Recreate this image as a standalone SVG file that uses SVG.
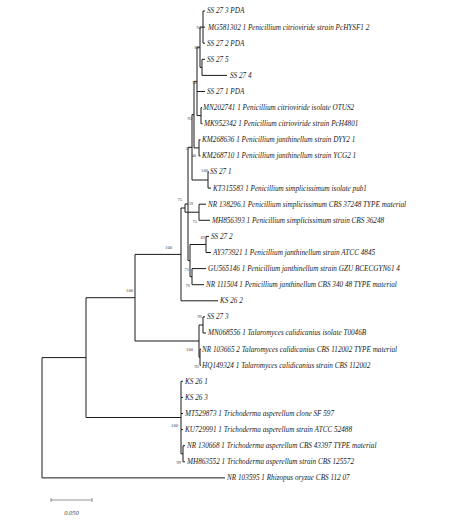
<svg xmlns="http://www.w3.org/2000/svg" width="474" height="524" viewBox="0 0 474 524">
<style>
.bg{fill:#ffffff}
.br{fill:none;stroke:#1a1a1a;stroke-width:1}
.lf{font-family:"Liberation Serif",serif;font-style:italic;font-size:7.2px;fill:#222}
.bs{font-family:"Liberation Serif",serif;font-size:4.6px;fill:#444;text-anchor:end}
.sc{font-family:"Liberation Serif",serif;font-style:italic;font-size:6.5px;fill:#444;text-anchor:middle}
.sb{fill:none;stroke:#777;stroke-width:0.8}
</style>
<rect class="bg" x="0" y="0" width="474" height="524"/>
<g id="connectors">
<path class="br" d="M42 357.6V477.9M42 357.6H86M42 477.9H225"/>
<path class="br" d="M86 297.7V417.5M86 297.7H135M86 417.5H181"/>
<path class="br" d="M135 254.4V341M135 254.4H181M135 341H199"/>
<path class="br" d="M181 208V300.8M181 208H185M181 300.8H218"/>
<path class="br" d="M185 204V212.2M185 204H188M185 212.2H199"/>
<path class="br" d="M188 147.3V260.6M188 147.3H192M188 260.6H190"/>
<path class="br" d="M192 114.6V180M192 114.6H194M192 180H208"/>
<path class="br" d="M194 81.4V147.9M194 81.4H197M194 147.9H199"/>
<path class="br" d="M197 47.2V115.6M197 47.2H200M197 91.5H205M197 115.6H201"/>
<path class="br" d="M200 27.1V67.35M200 27.1H203M200 67.35H202"/>
<path class="br" d="M203 11V43.2M203 11H205M203 27.1H205M203 43.2H205"/>
<path class="br" d="M202 59.3V75.4M202 59.3H205M202 75.4H227"/>
<path class="br" d="M201 107.6V123.7M201 107.6H202M201 123.7H202.5"/>
<path class="br" d="M199 139.8V155.9M199 139.8H200.5M199 155.9H200.5"/>
<path class="br" d="M208 172V188.1M208 172H209M208 188.1H211"/>
<path class="br" d="M199 204.2V220.3M199 204.2H206M199 220.3H210"/>
<path class="br" d="M190 244.5V276.7M190 244.5H206M190 276.7H192"/>
<path class="br" d="M206 236.4V252.5M206 236.4H209M206 252.5H211"/>
<path class="br" d="M192 268.6V284.7M192 268.6H206M192 284.7H204"/>
<path class="br" d="M199 325V357.2M199 325H203M199 357.2H200"/>
<path class="br" d="M203 316.9V333M203 316.9H205M203 333H206"/>
<path class="br" d="M200 349.1V365.2M200 349.1H201M200 365.2H201"/>
<path class="br" d="M181 381.3V453.8M181 381.3H183M181 397.4H183M181 413.5H183M181 429.6H183M181 453.8H183"/>
<path class="br" d="M183 445.7V461.8M183 445.7H185M183 461.8H185"/>
</g>
<g id="support">
<text class="bs" x="201" y="28.7">94</text>
<text class="bs" x="199" y="48.8">80</text>
<text class="bs" x="197" y="83.6">90</text>
<text class="bs" x="192" y="119.6">93</text>
<text class="bs" x="190" y="150">57</text>
<text class="bs" x="196" y="157">40</text>
<text class="bs" x="208" y="171.6">100</text>
<text class="bs" x="182" y="201">75</text>
<text class="bs" x="193" y="205">59</text>
<text class="bs" x="197" y="222.5">75</text>
<text class="bs" x="205" y="238.5" style="fill:#8a3a3a">89</text>
<text class="bs" x="172" y="249">100</text>
<text class="bs" x="189" y="270.5">71</text>
<text class="bs" x="190" y="286.5">76</text>
<text class="bs" x="133" y="292">100</text>
<text class="bs" x="202" y="318">96</text>
<text class="bs" x="193" y="351">100</text>
<text class="bs" x="199" y="367.5">92</text>
<text class="bs" x="178" y="426.5">100</text>
<text class="bs" x="181" y="463.5">99</text>
</g>
<g id="leaf0"><text class="lf" x="207" y="13.4">SS 27 3 PDA</text></g>
<g id="leaf1"><text class="lf" x="208" y="29.5">MG581302 1 Penicillium citrioviride strain PcHYSF1 2</text></g>
<g id="leaf2"><text class="lf" x="207" y="45.6">SS 27 2 PDA</text></g>
<g id="leaf3"><text class="lf" x="207" y="61.7">SS 27 5</text></g>
<g id="leaf4"><text class="lf" x="230" y="77.8">SS 27 4</text></g>
<g id="leaf5"><text class="lf" x="207" y="93.9">SS 27 1 PDA</text></g>
<g id="leaf6"><text class="lf" x="203" y="110">MN202741 1 Penicillium citrioviride isolate OTUS2</text></g>
<g id="leaf7"><text class="lf" x="204" y="126.1">MK952342 1 Penicillium citrioviride strain PcH4801</text></g>
<g id="leaf8"><text class="lf" x="202" y="142.2">KM268636 1 Penicillium janthinellum strain DYY2 1</text></g>
<g id="leaf9"><text class="lf" x="202" y="158.3">KM268710 1 Penicillium janthinellum strain YCG2 1</text></g>
<g id="leaf10"><text class="lf" x="210" y="174.4">SS 27 1</text></g>
<g id="leaf11"><text class="lf" x="213" y="190.5">KT315583 1 Penicillium simplicissimum isolate pub1</text></g>
<g id="leaf12"><text class="lf" x="208" y="206.6">NR 138296.1 Penicillium simplicissimum CBS 37248 TYPE material</text></g>
<g id="leaf13"><text class="lf" x="212" y="222.7">MH856393 1 Penicillium simplicissimum strain CBS 36248</text></g>
<g id="leaf14"><text class="lf" x="211" y="238.8">SS 27 2</text></g>
<g id="leaf15"><text class="lf" x="213" y="254.9">AY373921 1 Penicillium janthinellum strain ATCC 4845</text></g>
<g id="leaf16"><text class="lf" x="208" y="271">GU565146 1 Penicillium janthinellum strain GZU BCECGYN61 4</text></g>
<g id="leaf17"><text class="lf" x="206" y="287.1">NR 111504 1 Penicillium janthinellum CBS 340 48 TYPE material</text></g>
<g id="leaf18"><text class="lf" x="220" y="303.2">KS 26 2</text></g>
<g id="leaf19"><text class="lf" x="207" y="319.3">SS 27 3</text></g>
<g id="leaf20"><text class="lf" x="208" y="335.4">MN068556 1 Talaromyces calidicanius isolate T0046B</text></g>
<g id="leaf21"><text class="lf" x="202" y="351.5">NR 103665 2 Talaromyces calidicanius CBS 112002 TYPE material</text></g>
<g id="leaf22"><text class="lf" x="202" y="367.6">HQ149324 1 Talaromyces calidicanius strain CBS 112002</text></g>
<g id="leaf23"><text class="lf" x="185" y="383.7">KS 26 1</text></g>
<g id="leaf24"><text class="lf" x="185" y="399.8">KS 26 3</text></g>
<g id="leaf25"><text class="lf" x="185" y="415.9">MT529873 1 Trichoderma asperellum clone SF 597</text></g>
<g id="leaf26"><text class="lf" x="185" y="432">KU729991 1 Trichoderma asperellum strain ATCC 52488</text></g>
<g id="leaf27"><text class="lf" x="187" y="448.1">NR 130668 1 Trichoderma asperellum CBS 43397 TYPE material</text></g>
<g id="leaf28"><text class="lf" x="187" y="464.2">MH863552 1 Trichoderma asperellum strain CBS 125572</text></g>
<g id="leaf29"><text class="lf" x="227" y="480.3">NR 103595 1 Rhizopus oryzae CBS 112 07</text></g>
<g id="scale">
<path class="sb" d="M51 500H92M51 498V502M92 498V502"/>
<text class="sc" x="71.5" y="515">0.050</text>
</g>
</svg>
